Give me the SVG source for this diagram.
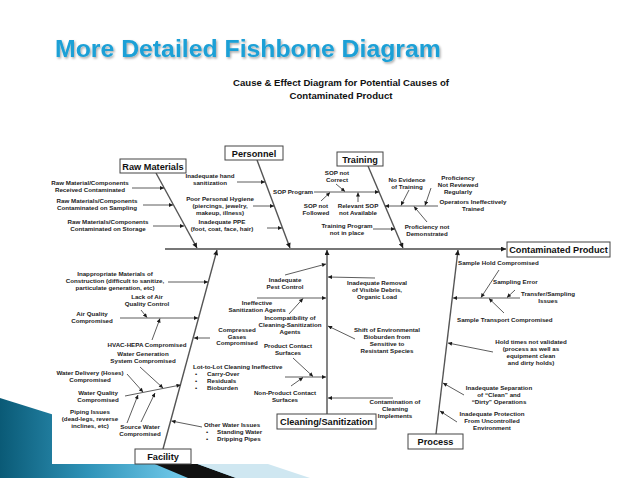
<svg xmlns="http://www.w3.org/2000/svg" width="638" height="478" viewBox="0 0 638 478">
<defs>
<linearGradient id="teal" x1="0" y1="0" x2="1" y2="0" gradientUnits="objectBoundingBox">
<stop offset="0" stop-color="#0a5a76"/>
<stop offset="0.35" stop-color="#2f93b8"/>
<stop offset="0.7" stop-color="#6cc5e6"/>
<stop offset="1" stop-color="#8ad3ee"/>
</linearGradient>
<filter id="shadow" x="-5%" y="-20%" width="110%" height="150%">
<feDropShadow dx="1.2" dy="1.5" stdDeviation="0.8" flood-color="#000" flood-opacity="0.35"/>
</filter>
<marker id="ah" viewBox="0 0 10 10" refX="10" refY="5" markerWidth="5" markerHeight="4" orient="auto" markerUnits="userSpaceOnUse">
<path d="M0,0 L10,5 L0,10 z" fill="#1a1a1a"/>
</marker>
<marker id="ahb" viewBox="0 0 10 10" refX="10" refY="5" markerWidth="6" markerHeight="5" orient="auto" markerUnits="userSpaceOnUse">
<path d="M0,0 L10,5 L0,10 z" fill="#1a1a1a"/>
</marker>
</defs>
<style>
.t{font-family:"Liberation Sans",Arial,sans-serif;font-weight:bold;font-size:6.2px;fill:#222;text-anchor:middle}
.ts{font-family:"Liberation Sans",Arial,sans-serif;font-weight:bold;font-size:6.2px;fill:#222}
.box{fill:#fff;stroke:#444;stroke-width:1}
.bl{font-family:"Liberation Sans",Arial,sans-serif;font-weight:bold;font-size:9.2px;fill:#111;text-anchor:middle}
.bone{stroke:#555;stroke-width:1.4;fill:none}
.spine{stroke:#777;stroke-width:1.8;fill:none}
.ar{stroke:#333;stroke-width:0.8;fill:none;marker-end:url(#ah)}
</style>
<rect x="0" y="0" width="638" height="478" fill="#fff"/>
<g id="background">
<polygon points="0,398 230,470 250,478 0,478" fill="url(#teal)"/>
<polygon points="150,462 192,462 236,478 188,478" fill="#111"/>
<polygon points="192,462 262,462 310,478 236,478" fill="#cfe7f1"/>
<rect x="52" y="70" width="566" height="394" fill="#fff"/>
</g>
<text x="55" y="57" font-family="'Liberation Sans',Arial,sans-serif" font-weight="bold" font-size="24.8" fill="#1ca0d6" filter="url(#shadow)">More Detailed Fishbone Diagram</text>
<text x="341" y="86" font-family="'Liberation Sans',Arial,sans-serif" font-weight="bold" font-size="9.6" fill="#111" text-anchor="middle">Cause &amp; Effect Diagram for Potential Causes of</text>
<text x="341" y="99" font-family="'Liberation Sans',Arial,sans-serif" font-weight="bold" font-size="9.6" fill="#111" text-anchor="middle">Contaminated Product</text>

<g id="connectors">
<line class="spine" x1="165" y1="249" x2="506" y2="249" style="marker-end:url(#ahb)"/>
<line class="bone" x1="156" y1="173" x2="197" y2="248" style="marker-end:url(#ahb)"/>
<line class="bone" x1="257" y1="160" x2="290" y2="248" style="marker-end:url(#ahb)"/>
<line class="bone" x1="368" y1="166" x2="403" y2="248" style="marker-end:url(#ahb)"/>
<line class="spine" x1="327" y1="414" x2="327" y2="250" style="marker-end:url(#ahb)"/>
<line class="bone" x1="436" y1="434" x2="458" y2="250" style="marker-end:url(#ahb)"/>
<line class="bone" x1="163" y1="449" x2="217" y2="250" style="marker-end:url(#ahb)"/>
<!-- raw materials -->
<line class="ar" x1="132" y1="188" x2="164" y2="188"/>
<line class="ar" x1="143" y1="205" x2="173" y2="205"/>
<line class="ar" x1="153" y1="226" x2="184" y2="226"/>
<!-- personnel -->
<line class="ar" x1="237" y1="182" x2="265" y2="182"/>
<line class="ar" x1="253" y1="206" x2="274" y2="206"/>
<line class="ar" x1="267" y1="228" x2="282" y2="228"/>
<!-- training -->
<line class="ar" x1="314" y1="192" x2="379" y2="192"/>
<line class="ar" x1="336" y1="184" x2="345" y2="191.5"/>
<line class="ar" x1="321" y1="201" x2="330" y2="192.5"/>
<line class="ar" x1="358" y1="202" x2="358" y2="192.5"/>
<line class="ar" x1="373" y1="229" x2="395" y2="229"/>
<line class="ar" x1="438" y1="206" x2="385" y2="206"/>
<line class="ar" x1="409" y1="190" x2="401" y2="205.5"/>
<line class="ar" x1="431" y1="188" x2="425" y2="205.5"/>
<line class="ar" x1="427" y1="222" x2="414" y2="206.5"/>
<!-- cleaning -->
<line class="ar" x1="285" y1="275" x2="326" y2="264"/>
<line class="ar" x1="257" y1="298" x2="326" y2="298"/>
<line class="ar" x1="289" y1="314" x2="303" y2="298.5"/>
<line class="ar" x1="293" y1="358" x2="313" y2="376.5"/>
<line class="ar" x1="285" y1="377" x2="326" y2="377"/>
<line class="ar" x1="291" y1="386" x2="303" y2="377.5"/>
<line class="ar" x1="375" y1="278" x2="328" y2="277"/>
<line class="ar" x1="355" y1="339" x2="328" y2="326"/>
<line class="ar" x1="393" y1="398" x2="328" y2="398"/>
<!-- process -->
<line class="ar" x1="499" y1="270" x2="481" y2="297.5"/>
<line class="ar" x1="520" y1="298" x2="453" y2="298"/>
<line class="ar" x1="515" y1="290" x2="507" y2="297.5"/>
<line class="ar" x1="504" y1="313" x2="489" y2="298.5"/>
<line class="ar" x1="493" y1="352" x2="448" y2="343"/>
<line class="ar" x1="464" y1="395" x2="443" y2="383"/>
<line class="ar" x1="457" y1="422" x2="440" y2="411"/>
<!-- facility -->
<line class="ar" x1="168" y1="282" x2="208" y2="282"/>
<line class="ar" x1="120" y1="318" x2="198" y2="318"/>
<line class="ar" x1="141" y1="310" x2="147" y2="317.5"/>
<line class="ar" x1="152" y1="340" x2="160" y2="318.5"/>
<line class="ar" x1="210" y1="338" x2="194" y2="338"/>
<line class="ar" x1="125" y1="396" x2="180.5" y2="385"/>
<line class="ar" x1="140" y1="367" x2="163" y2="388"/>
<line class="ar" x1="127" y1="374" x2="143" y2="392"/>
<line class="ar" x1="127" y1="423" x2="138" y2="395"/>
<line class="ar" x1="141" y1="422" x2="155" y2="393"/>
<line class="ar" x1="202" y1="427" x2="171.5" y2="421"/>
</g>

<g id="raw-materials">
<rect class="box" x="120" y="159" width="66" height="14"/>
<text class="bl" x="153" y="169.5">Raw Materials</text>
<text class="t" x="90" y="185">Raw Material/Components</text>
<text class="t" x="90" y="192">Received Contaminated</text>
<text class="t" x="97" y="203">Raw Materials/Components</text>
<text class="t" x="97" y="210">Contaminated on Sampling</text>
<text class="t" x="108" y="224">Raw Materials/Components</text>
<text class="t" x="108" y="231">Contaminated on Storage</text>
</g>

<g id="personnel">
<rect class="box" x="225" y="146" width="58" height="14"/>
<text class="bl" x="254" y="156.5">Personnel</text>
<text class="t" x="210" y="178">Inadequate hand</text>
<text class="t" x="210" y="185">sanitization</text>
<text class="t" x="220" y="201">Poor Personal Hygiene</text>
<text class="t" x="220" y="208">(piercings, jewelry,</text>
<text class="t" x="220" y="215">makeup, illness)</text>
<text class="t" x="222" y="224">Inadequate PPE</text>
<text class="t" x="222" y="231">(foot, coat, face, hair)</text>
</g>

<g id="training">
<rect class="box" x="337" y="152" width="46" height="14"/>
<text class="bl" x="360" y="162.5">Training</text>
<text class="ts" x="273" y="194">SOP Program</text>
<text class="t" x="337" y="175">SOP not</text>
<text class="t" x="337" y="182">Correct</text>
<text class="t" x="316" y="208">SOP not</text>
<text class="t" x="316" y="215">Followed</text>
<text class="t" x="358" y="208">Relevant SOP</text>
<text class="t" x="358" y="215">not Available</text>
<text class="t" x="347" y="228">Training Program</text>
<text class="t" x="347" y="235">not in place</text>
<text class="t" x="473" y="204">Operators Ineffectively</text>
<text class="t" x="473" y="211">Trained</text>
<text class="t" x="407" y="182">No Evidence</text>
<text class="t" x="407" y="189">of Training</text>
<text class="t" x="458" y="180">Proficiency</text>
<text class="t" x="458" y="187">Not Reviewed</text>
<text class="t" x="458" y="194">Regularly</text>
<text class="t" x="427" y="229">Proficiency not</text>
<text class="t" x="427" y="236">Demonstrated</text>
</g>

<g id="contaminated-product">
<rect class="box" x="507" y="242" width="103" height="15"/>
<text class="bl" x="558.5" y="253">Contaminated Product</text>
</g>

<g id="cleaning-sanitization">
<rect class="box" x="277" y="414" width="99" height="15"/>
<text class="bl" x="326.5" y="425">Cleaning/Sanitization</text>
<text class="t" x="285" y="282">Inadequate</text>
<text class="t" x="285" y="289">Pest Control</text>
<text class="t" x="257" y="305">Ineffective</text>
<text class="t" x="257" y="311.5">Sanitization Agents</text>
<text class="t" x="290" y="320">Incompatibility of</text>
<text class="t" x="290" y="327">Cleaning-Sanitization</text>
<text class="t" x="290" y="333.5">Agents</text>
<text class="t" x="288" y="348">Product Contact</text>
<text class="t" x="288" y="355">Surfaces</text>
<text class="t" x="285" y="395">Non-Product Contact</text>
<text class="t" x="285" y="401.5">Surfaces</text>
<text class="ts" x="193" y="369">Lot-to-Lot Cleaning Ineffective</text>
<text class="ts" x="195" y="376">•</text><text class="ts" x="207" y="376">Carry-Over</text>
<text class="ts" x="195" y="383">•</text><text class="ts" x="207" y="383">Residuals</text>
<text class="ts" x="195" y="390">•</text><text class="ts" x="207" y="390">Bioburden</text>
<text class="t" x="377" y="285">Inadequate Removal</text>
<text class="t" x="377" y="292">of Visible Debris,</text>
<text class="t" x="377" y="299">Organic Load</text>
<text class="t" x="387" y="332">Shift of Environmental</text>
<text class="t" x="387" y="339">Bioburden from</text>
<text class="t" x="387" y="346">Sensitive to</text>
<text class="t" x="387" y="353">Resistant Species</text>
<text class="t" x="395" y="404">Contamination of</text>
<text class="t" x="395" y="411">Cleaning</text>
<text class="t" x="395" y="417.5">Implements</text>
</g>

<g id="process">
<rect class="box" x="408" y="434" width="55" height="15"/>
<text class="bl" x="435.5" y="445">Process</text>
<text class="ts" x="458" y="265">Sample Hold Compromised</text>
<text class="ts" x="493" y="284">Sampling Error</text>
<text class="t" x="548" y="296">Transfer/Sampling</text>
<text class="t" x="548" y="303">Issues</text>
<text class="ts" x="457" y="322">Sample Transport Compromised</text>
<text class="t" x="531" y="344">Hold times not validated</text>
<text class="t" x="531" y="351">(process as well as</text>
<text class="t" x="531" y="358">equipment clean</text>
<text class="t" x="531" y="365">and dirty holds)</text>
<text class="t" x="499" y="390">Inadequate Separation</text>
<text class="t" x="499" y="397">of “Clean” and</text>
<text class="t" x="499" y="404">“Dirty” Operations</text>
<text class="t" x="492" y="416">Inadequate Protection</text>
<text class="t" x="492" y="423">From Uncontrolled</text>
<text class="t" x="492" y="430">Environment</text>
</g>

<g id="facility">
<rect class="box" x="135" y="449" width="56" height="15"/>
<text class="bl" x="163" y="460">Facility</text>
<text class="t" x="115" y="276">Inappropriate Materials of</text>
<text class="t" x="115" y="283">Construction (difficult to sanitize,</text>
<text class="t" x="115" y="290">particulate generation, etc)</text>
<text class="t" x="147" y="299">Lack of Air</text>
<text class="t" x="147" y="306">Quality Control</text>
<text class="t" x="92" y="316">Air Quality</text>
<text class="t" x="92" y="323">Compromised</text>
<text class="t" x="147" y="347">HVAC-HEPA Compromised</text>
<text class="t" x="237" y="332">Compressed</text>
<text class="t" x="237" y="338.5">Gases</text>
<text class="t" x="237" y="345">Compromised</text>
<text class="t" x="143" y="356">Water Generation</text>
<text class="t" x="143" y="363">System Compromised</text>
<text class="t" x="90" y="375">Water Delivery (Hoses)</text>
<text class="t" x="90" y="381.5">Compromised</text>
<text class="t" x="98" y="395">Water Quality</text>
<text class="t" x="98" y="401.5">Compromised</text>
<text class="t" x="90" y="414">Piping Issues</text>
<text class="t" x="90" y="421">(dead-legs, reverse</text>
<text class="t" x="90" y="428">inclines, etc)</text>
<text class="t" x="140" y="429">Source Water</text>
<text class="t" x="140" y="436">Compromised</text>
<text class="ts" x="204" y="427">Other Water Issues</text>
<text class="ts" x="206" y="434">•</text><text class="ts" x="217" y="434">Standing Water</text>
<text class="ts" x="206" y="441">•</text><text class="ts" x="217" y="441">Dripping Pipes</text>
</g>
</svg>
